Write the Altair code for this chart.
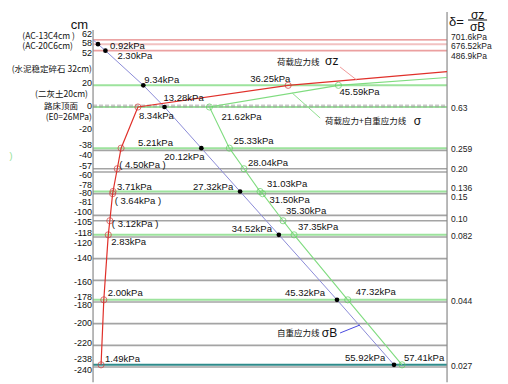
import altair as alt
import pandas as pd

# ---------------- data ----------------
# self-weight stress line sigma_B : depth (cm) / stress (kPa)
sb_depth = [62, 58, 52, 20, 0, -38, -78, -118, -178, -238]
sb_kpa = [0.0, 0.92, 2.30, 9.34, 13.28, 20.12, 27.32, 34.52, 45.32, 55.92]

# load stress line sigma_z (first point = where it leaves the frame)
sz_depth = [32.7, 20, 0, -38, -57, -78, -80, -105, -118, -178, -238]
sz_kpa = [65.77, 36.25, 8.34, 5.21, 4.50, 3.71, 3.64, 3.12, 2.83, 2.00, 1.49]

# load + self-weight line sigma (first point = where it leaves the frame)
s_depth = [27.3, 20, 0, -38, -57, -78, -80, -105, -118, -178, -238]
s_kpa = [65.77, 45.59, 21.62, 25.33, 28.04, 31.03, 31.50, 35.30, 37.35, 47.32, 57.41]

# horizontal layer lines (cm)
red_lines = [62, 58, 52]
green_lines = [20, 0, -38, -78, -118, -178]
teal_lines = [-238]
gray_lines = [-40, -57, -60, -80, -100, -105, -120, -140, -160, -180, -200, -220, -240]

# left depth labels
tick_text = ["62", "58", "52", "20", "0", "-20", "-38", "-40", "-57", "-60", "-78", "-80", "-81",
             "-100", "-105", "-118", "-120", "-140", "-160", "-178", "-180", "-200", "-220", "-238", "-240"]
tick_val = [62, 58, 52, 20, 0, -20, -38, -40, -57, -60, -78, -80, -80,
            -100, -105, -118, -120, -140, -160, -178, -180, -200, -220, -238, -240]

# layer names on the left
layer_text = ["(AC-13C4cm )", "(AC-20C6cm)", "(水泥稳定碎石 32cm)", "(二灰土20cm)", "路床顶面", "(E0=26MPa)"]
layer_depth = [65.5, 56.3, 35.1, 12.0, 0.9, -9.2]

# right-hand ratio labels
ratio_text = ["701.6kPa", "676.52kPa", "486.9kPa", "0.63", "0.259", "0.20", "0.136", "0.15",
              "0.10", "0.082", "0.044", "0.027"]
ratio_depth = [62, 58, 52, 0, -38, -57, -78, -80, -105, -118, -178, -238]

# value labels
lab_text = ["0.92kPa", "2.30kPa", "9.34kPa", "13.28kPa", "8.34kPa", "36.25kPa", "45.59kPa",
            "21.62kPa", "5.21kPa", "25.33kPa", "20.12kPa", "( 4.50kPa )", "28.04kPa", "3.71kPa",
            "27.32kPa", "31.03kPa", "( 3.64kPa )", "31.50kPa", "35.30kPa", "( 3.12kPa )",
            "34.52kPa", "37.35kPa", "2.83kPa", "2.00kPa", "45.32kPa", "47.32kPa", "1.49kPa",
            "55.92kPa", "57.41kPa"]
lab_kpa = [0.92, 2.30, 9.34, 13.28, 8.34, 36.25, 45.59, 21.62, 5.21, 25.33, 20.12, 4.50, 28.04,
           3.71, 27.32, 31.03, 3.64, 31.50, 35.30, 3.12, 34.52, 37.35, 2.83, 2.00, 45.32, 47.32,
           1.49, 55.92, 57.41]
lab_depth = [58, 52, 20, 0, 0, 20, 20, 0, -38, -38, -38, -57, -57, -78, -78, -78, -80, -80,
             -105, -105, -118, -118, -118, -178, -178, -178, -238, -238, -238]

# ---------------- layout (pixel nudges, not data) ----------------
lab_dx = [12, 12, 1, -1, 1, -38, 1, 12, 17, 4, -37, 2, 4, 4, -47, 7, 2, 7, 3, 2, -47, 4, 3, 4,
          -52, 8, 4, -49, 2]
lab_dy = [2, 5, -5, -9, 9, -6, 7, 10, -5, -7, 9, -4, -6, -5, -5, -8, 7, 6, -10, 3, -6, -8, 7, -7,
          -7, -8, -6, -7, -7]
tick_dy = [-6, -1, 2, -2, -1, 0, -3, 5, -3, 3, -7, -1, 8, -3, 1, -2, 6, -1, 2, -3, 3, -1, -2, -6, 3]
ratio_dy = [-3, 2, 5, 1, 1, 0, -4, 3, -2, 1, 1, 1]

W, H = 492, 368
X_DOM = [-15.80, 75.61]
Y_DOM = [-248.31, 91.39]
KX = W / (X_DOM[1] - X_DOM[0])
KY = H / (Y_DOM[1] - Y_DOM[0])
XR = 65.77  # right frame position on the kPa scale

xs = alt.Scale(domain=X_DOM, nice=False, zero=False)
ys = alt.Scale(domain=Y_DOM, nice=False, zero=False)


def X(f):
    return alt.X(f, type="quantitative", scale=xs, axis=None)


def Y(f):
    return alt.Y(f, type="quantitative", scale=ys, axis=None)


LAT = "Liberation Sans"
CJK = "Noto Sans CJK SC"


def hlines(vals, color, width, dash=None, shift=0.0, opacity=1.0):
    df = pd.DataFrame({"d": [v + shift for v in vals]})
    df["x0"] = 0.0
    df["x1"] = XR
    kw = dict(color=color, strokeWidth=width, opacity=opacity)
    if dash:
        kw["strokeDash"] = dash
    return alt.Chart(df).mark_rule(**kw).encode(x=X("x0"), x2="x1", y=Y("d"))


layers = []
layers.append(hlines(gray_lines, "#a4a4a4", 1.6))
layers.append(hlines(green_lines, "#9de39d", 2.0))
layers.append(hlines(teal_lines, "#2e8b8b", 2.0))
layers.append(hlines([62], "#e58585", 1.2))
layers.append(hlines([58], "#f2c2c2", 2.0))
layers.append(hlines([52], "#eba0a0", 1.6))
layers.append(hlines([0], "#9a9a9a", 3.0, dash=[4, 2], shift=0.9, opacity=0.55))

# frame verticals
fr = pd.DataFrame({"x": [0.0, XR], "y0": [71.0, 87.7], "y1": [-254.0, -254.0]})
layers.append(alt.Chart(fr).mark_rule(color="#8a8a8a", strokeWidth=1.2).encode(
    x=X("x"), y=Y("y0"), y2="y1"))

# stress lines
sb = pd.DataFrame({"d": sb_depth, "k": sb_kpa, "o": range(len(sb_kpa))})
sz = pd.DataFrame({"d": sz_depth, "k": sz_kpa, "o": range(len(sz_kpa))})
sg = pd.DataFrame({"d": s_depth, "k": s_kpa, "o": range(len(s_kpa))})

layers.append(alt.Chart(sg).mark_line(color="#7fdc7f", strokeWidth=1.1).encode(
    x=X("k"), y=Y("d"), order="o:Q"))
layers.append(alt.Chart(sb).mark_line(color="#8c8cd8", strokeWidth=1.0).encode(
    x=X("k"), y=Y("d"), order="o:Q"))
layers.append(alt.Chart(sz).mark_line(color="#e0302a", strokeWidth=1.2).encode(
    x=X("k"), y=Y("d"), order="o:Q"))

layers.append(alt.Chart(sg.iloc[1:]).mark_point(shape="circle", filled=False, color="#5fcf5f",
                                                  size=38, strokeWidth=1).encode(x=X("k"), y=Y("d")))
layers.append(alt.Chart(sz.iloc[1:]).mark_point(shape="circle", filled=False, color="#d03a3a",
                                                  size=38, strokeWidth=1).encode(x=X("k"), y=Y("d")))
layers.append(alt.Chart(sb.iloc[1:]).mark_point(shape="circle", filled=True, color="#000000",
                                                  size=22, opacity=1).encode(x=X("k"), y=Y("d")))

# leader lines for curve captions
lead = pd.DataFrame({
    "x0": [45.9, 37.0, 45.9], "y0": [36.9, 12.9, -208.6],
    "x1": [49.0, 42.2, 49.6], "y1": [24.9, -10.2, -201.2],
    "c": ["#f09a9a", "#8fe08f", "#4a4ae0"]})
layers.append(alt.Chart(lead).mark_rule(strokeWidth=1).encode(
    x=X("x0"), y=Y("y0"), x2="x1", y2="y1", color=alt.Color("c:N", scale=None)))

# value labels
lab = pd.DataFrame({"t": lab_text,
                    "x": [k + dx / KX for k, dx in zip(lab_kpa, lab_dx)],
                    "y": [d - dy / KY for d, dy in zip(lab_depth, lab_dy)]})
layers.append(alt.Chart(lab).mark_text(align="left", baseline="middle", font=LAT, fontSize=9.5,
                                       color="#111").encode(x=X("x"), y=Y("y"), text="t:N"))

# left depth labels
tk = pd.DataFrame({"t": tick_text, "y": [v - dy / KY for v, dy in zip(tick_val, tick_dy)]})
layers.append(alt.Chart(tk).mark_text(align="right", baseline="middle", font=LAT, fontSize=9,
                                      color="#111").encode(x=alt.value(84), y=Y("y"), text="t:N"))

# layer names
ly = pd.DataFrame({"t": layer_text, "y": layer_depth,
                   "px": [67, 65, 84, 80, 70, 84]})
layers.append(alt.Chart(ly).mark_text(align="right", baseline="middle", font=CJK, fontSize=8.5,
                                      color="#111").encode(x=alt.X("px:Q", scale=None), y=Y("y"), text="t:N"))

# cm unit
cm = pd.DataFrame({"t": ["cm"], "y": [75.7]})
layers.append(alt.Chart(cm).mark_text(align="right", baseline="middle", font=LAT, fontSize=13,
                                      color="#111").encode(x=alt.value(80), y=Y("y"), text="t:N"))

# right ratio labels
rt = pd.DataFrame({"t": ratio_text, "y": [v - dy / KY for v, dy in zip(ratio_depth, ratio_dy)]})
layers.append(alt.Chart(rt).mark_text(align="left", baseline="middle", font=LAT, fontSize=8.5,
                                      color="#222").encode(x=alt.value(443), y=Y("y"), text="t:N"))

# curve captions
cap = pd.DataFrame({"t": ["荷载应力线", "荷载应力+自重应力线", "自重应力线"],
                    "x": [34.18, 43.1, 34.18], "y": [41.5, -12.9, -208.6]})
layers.append(alt.Chart(cap).mark_text(align="left", baseline="middle", font=CJK, fontSize=8.5,
                                       color="#111").encode(x=X("x"), y=Y("y"), text="t:N"))
sym = pd.DataFrame({"t": ["σz", "σ", "σB"], "x": [43.1, 59.6, 42.5], "y": [42.2, -13.3, -208.9]})
layers.append(alt.Chart(sym).mark_text(align="left", baseline="middle", font=LAT, fontSize=12,
                                       color="#111").encode(x=X("x"), y=Y("y"), text="t:N"))

# delta = sigma_z / sigma_B
dl = pd.DataFrame({"t": ["δ=", "σz", "σB"], "x": [66.14, 71.45, 71.45], "y": [78.5, 85.2, 73.8]})
layers.append(alt.Chart(dl.iloc[:1]).mark_text(align="left", baseline="middle", font=LAT, fontSize=13,
                                               color="#111").encode(x=X("x"), y=Y("y"), text="t:N"))
layers.append(alt.Chart(dl.iloc[1:]).mark_text(align="center", baseline="middle", font=LAT, fontSize=12,
                                               color="#111").encode(x=X("x"), y=Y("y"), text="t:N"))
bar = pd.DataFrame({"x0": [69.68], "x1": [73.21], "y": [80.3]})
layers.append(alt.Chart(bar).mark_rule(color="#111", strokeWidth=1).encode(x=X("x0"), x2="x1", y=Y("y")))

# stray mark at the left edge
st = pd.DataFrame({"t": [")"], "y": [-45.2]})
layers.append(alt.Chart(st).mark_text(align="center", baseline="middle", font=LAT, fontSize=9,
                                      color="#8fe08f").encode(x=alt.value(3), y=Y("y"), text="t:N"))

chart = alt.layer(*layers).properties(
    width=W, height=H,
    autosize=alt.AutoSizeParams(type="none"),
    padding={"left": 0, "top": 0, "right": 0, "bottom": 8},
    background="white",
).configure_view(stroke=None)

chart.save("out.html", embed_options={"renderer": "svg", "actions": False})
